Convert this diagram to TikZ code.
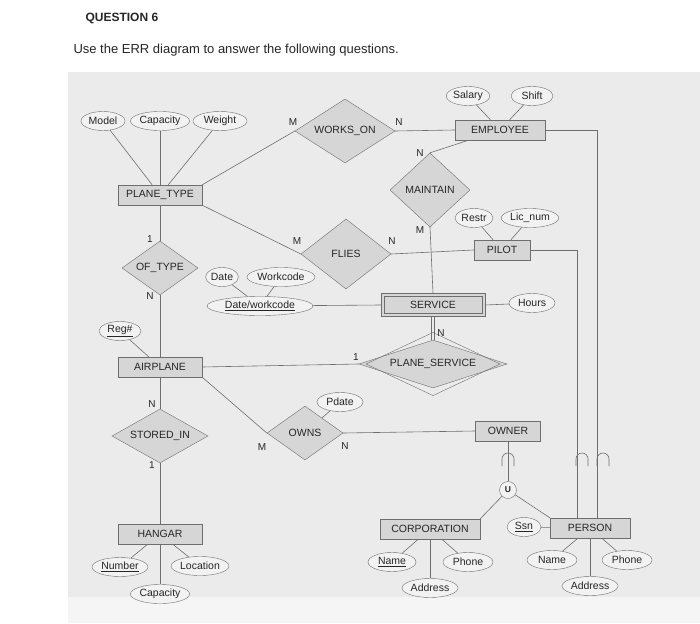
\documentclass[tikz,border=0pt]{standalone}
\usepackage{fontspec}
\setmainfont{Liberation Sans}
\usetikzlibrary{shapes.geometric,calc}
\definecolor{ln}{HTML}{6E6E6E}
\definecolor{ent}{HTML}{D6D6D6}
\definecolor{att}{HTML}{F2F2F2}
\definecolor{bg}{HTML}{EBEBEB}
\pgfdeclarelayer{bgl}
\pgfsetlayers{bgl,main}
\begin{document}
\begin{tikzpicture}[x=1pt,y=-1pt,
  every node/.style={font=\fontsize{10.5}{12}\selectfont,text=black!85},
  ent/.style={draw=ln,fill=ent,minimum height=20pt,inner sep=2pt},
  att/.style={draw=ln,fill=att,ellipse,inner sep=0.5pt,minimum height=19pt},
  rel/.style={draw=ln,fill=ent,diamond,aspect=1.6,inner sep=0pt},
  lbl/.style={font=\fontsize{10}{11}\selectfont},
  cn/.style={draw=ln,line width=0.6pt}]
\path[use as bounding box] (0,0) rectangle (700,623);
\begin{pgfonlayer}{bgl}
\fill[white] (0,0) rectangle (700,623);
\fill[bg] (68,72) rectangle (700,597);
\fill[black!4] (68,597) rectangle (700,623);
\end{pgfonlayer}
\node[anchor=west,font=\bfseries\fontsize{12}{14}\selectfont] (q) at (82,18) {QUESTION 6};
\node[anchor=west,font=\fontsize{13}{15}\selectfont] (u) at (70,50) {Use the ERR diagram to answer the following questions.};
\coordinate (empR) at (597,130);
\coordinate (pilR) at (577,250);
% entities
\node[ent,minimum width=84pt] (pt) at (160,195) {PLANE\_TYPE};
\node[ent,minimum width=90pt] (emp) at (500,130) {EMPLOYEE};
\node[ent,minimum width=56pt] (pil) at (502,250) {PILOT};
\node[ent,minimum width=84pt] (air) at (160,367) {AIRPLANE};
\node[ent,minimum width=84pt] (han) at (160,534) {HANGAR};
\node[ent,minimum width=65pt] (own) at (508,431) {OWNER};
\node[ent,minimum width=100pt] (cor) at (430,529) {CORPORATION};
\node[ent,minimum width=80pt] (per) at (590,528) {PERSON};
\node[ent,minimum width=104pt,minimum height=23pt] (ser) at (433,305) {};
\node[draw=ln,fill=ent,minimum width=98pt,minimum height=17pt,inner sep=0pt] (ser2) at (433,305) {SERVICE};
% relationships
\node[rel,minimum width=100pt,minimum height=64pt] (wo) at (345,131) {WORKS\_ON};
\node[rel,minimum width=80pt,minimum height=74pt] (mt) at (430,190) {MAINTAIN};
\node[rel,minimum width=90pt,minimum height=70pt] (fl) at (346,254) {FLIES};
\node[rel,minimum width=76pt,minimum height=54pt] (ot) at (160,268) {OF\_TYPE};
\node[rel,minimum width=96pt,minimum height=54pt] (si) at (160,436) {STORED\_IN};
\node[rel,minimum width=76pt,minimum height=54pt] (ow) at (305,433) {OWNS};
\node[rel,minimum width=148pt,minimum height=48pt] (ps) at (433,364) {};
\node[rel,fill=none,minimum width=134pt,minimum height=40pt] (ps2) at (433,364) {PLANE\_SERVICE};
% attributes
\node[att,minimum width=44pt] (a1) at (103,121) {Model};
\node[att,minimum width=58pt] (a2) at (160,121) {Capacity};
\node[att,minimum width=54pt] (a3) at (220,121) {Weight};
\node[att,minimum width=42pt] (a4) at (468,96) {Salary};
\node[att,minimum width=42pt] (a5) at (532,96) {Shift};
\node[att,minimum width=38pt] (a6) at (474,218) {Restr};
\node[att,minimum width=56pt] (a7) at (530,218) {Lic\_num};
\node[att,minimum width=32pt] (a8) at (222,277) {Date};
\node[att,minimum width=62pt] (a9) at (281,277) {Workcode};
\node[att,minimum width=106pt] (a10) at (260,306) {\underline{Date/workcode}};
\node[att,minimum width=46pt] (a11) at (532,303) {Hours};
\node[att,minimum width=42pt] (a12) at (120,331) {\underline{Reg\#}};
\node[att,minimum width=46pt] (a13) at (340,402) {Pdate};
\node[att,minimum width=56pt] (a14) at (120,567) {\underline{Number}};
\node[att,minimum width=58pt] (a15) at (200,566) {Location};
\node[att,minimum width=58pt] (a16) at (160,594) {Capacity};
\node[att,minimum width=48pt] (a17) at (392,562) {\underline{Name}};
\node[att,minimum width=50pt] (a18) at (468,562) {Phone};
\node[att,minimum width=56pt] (a19) at (430,588) {Address};
\node[att,minimum width=34pt] (a20) at (524,527) {\underline{Ssn}};
\node[att,minimum width=50pt] (a21) at (552,560) {Name};
\node[att,minimum width=50pt] (a22) at (627,560) {Phone};
\node[att,minimum width=56pt] (a23) at (590,586) {Address};
\node[draw=ln,fill=att,circle,inner sep=0pt,minimum size=17pt,font=\bfseries\fontsize{8.5}{9}\selectfont] (un) at (508,490) {U};
% connectors behind nodes
\begin{pgfonlayer}{bgl}
\draw[cn] (a1) -- (pt); \draw[cn] (a2) -- (pt); \draw[cn] (a3) -- (pt);
\draw[cn] (a4) -- (emp); \draw[cn] (a5) -- (emp);
\draw[cn] (a6) -- (pil); \draw[cn] (a7) -- (pil);
\draw[cn] (pt.north east) -- (wo.west); \draw[cn] (wo.east) -- (emp.west);
\draw[cn] (emp) -- (mt.north); \draw[cn] (mt.south) -- (ser.north);
\draw[cn] (pt.south east) -- (fl.west); \draw[cn] (fl.east) -- (pil.west);
\draw[cn] (pt.south) -- (ot.north); \draw[cn] (ot.south) -- (air.north);
\draw[cn] (a8) -- (a10); \draw[cn] (a9) -- (a10);
\draw[cn] (a10) -- (ser.west); \draw[cn] (ser.east) -- (a11);
\draw[cn] ([xshift=-1.5pt]ser.south) -- ([xshift=-1.5pt]ps.north);
\draw[cn] ([xshift=1.5pt]ser.south) -- ([xshift=1.5pt]ps.north);
\draw[cn] (air.east) -- (ps.west);
\draw[cn] (a12) -- (air);
\draw[cn] (air.south) -- (si.north); \draw[cn] (si.south) -- (han.north);
\draw[cn] (air.south east) -- (ow.west); \draw[cn] (ow.east) -- (own.west);
\draw[cn] (a13) -- (ow);
\draw[cn] (own.south) -- (un.north);
\draw[cn] (un) -- (cor.north east); \draw[cn] (un) -- (per.north west);
\draw[cn] (a20) -- (per);
\draw[cn] (a17) -- (cor); \draw[cn] (a18) -- (cor); \draw[cn] (cor.south) -- (a19.north);
\draw[cn] (a21) -- (per); \draw[cn] (a22) -- (per); \draw[cn] (per.south) -- (a23.north);
\draw[cn] (a14) -- (han); \draw[cn] (a15) -- (han); \draw[cn] (han.south) -- (a16.north);
\draw[cn] (emp.east) -- (empR) -- (empR |- per.north);
\draw[cn] (pil.east) -- (pilR) -- (pilR |- per.north);
\end{pgfonlayer}
% subset symbols
\foreach \x in {508,582,603}{
  \draw[cn] (\x-6,466) -- (\x-6,459) arc[start angle=180,end angle=360,radius=6] -- (\x+6,466);}
% cardinalities
\node[lbl] (c1) at (293,122) {M};
\node[lbl] (c2) at (399,122) {N};
\node[lbl] (c3) at (420,153) {N};
\node[lbl] (c4) at (420,230) {M};
\node[lbl] (c5) at (297,241) {M};
\node[lbl] (c6) at (392,241) {N};
\node[lbl] (c7) at (150,239) {1};
\node[lbl] (c8) at (150,296) {N};
\node[lbl] (c9) at (441,333) {N};
\node[lbl] (c10) at (356,357) {1};
\node[lbl] (c11) at (152,404) {N};
\node[lbl] (c12) at (152,465) {1};
\node[lbl] (c13) at (262,447) {M};
\node[lbl] (c14) at (345,446) {N};
\end{tikzpicture}
\end{document}
